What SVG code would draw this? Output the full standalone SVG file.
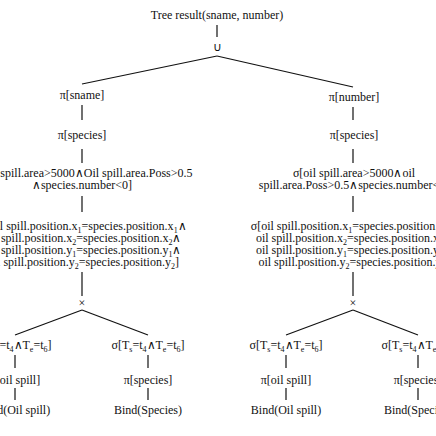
<svg xmlns="http://www.w3.org/2000/svg" width="436" height="436" viewBox="0 0 436 436">
<style>
text{font-family:"Liberation Serif","Times New Roman",serif;font-size:12px;fill:#111;text-anchor:middle}
.s{font-size:8px}
line{stroke:#111;stroke-width:1.2}
</style>
<rect width="436" height="436" fill="#fff"/>
<g id="connectors">
<line x1="217" y1="25" x2="217" y2="37"/>
<line x1="217" y1="56" x2="82" y2="84"/>
<line x1="217" y1="56" x2="353" y2="87"/>
<line x1="82" y1="105" x2="82" y2="120"/>
<line x1="353" y1="107" x2="353" y2="120"/>
<line x1="82" y1="149" x2="82" y2="163"/>
<line x1="353" y1="149" x2="353" y2="163"/>
<line x1="82" y1="196" x2="82" y2="212"/>
<line x1="353" y1="196" x2="353" y2="212"/>
<line x1="82" y1="272" x2="82" y2="296"/>
<line x1="353" y1="272" x2="353" y2="296"/>
<line x1="82" y1="310" x2="15" y2="335"/>
<line x1="82" y1="310" x2="148" y2="335"/>
<line x1="353" y1="310" x2="286" y2="335"/>
<line x1="353" y1="310" x2="418" y2="335"/>
<line x1="15" y1="355" x2="15" y2="368"/>
<line x1="148" y1="355" x2="148" y2="368"/>
<line x1="286" y1="355" x2="286" y2="368"/>
<line x1="418" y1="355" x2="418" y2="368"/>
<line x1="15" y1="388" x2="15" y2="400"/>
<line x1="148" y1="388" x2="148" y2="400"/>
<line x1="286" y1="388" x2="286" y2="400"/>
<line x1="418" y1="388" x2="418" y2="400"/>
</g>
<g id="root"><text x="217" y="19">Tree result(sname, number)</text></g>
<g id="union"><text x="217" y="51">∪</text></g>
<g id="pi-sname"><text x="82" y="99">π[sname]</text></g>
<g id="pi-number"><text x="354" y="101">π[number]</text></g>
<g id="pi-species-l"><text x="82" y="139">π[species]</text></g>
<g id="pi-species-r"><text x="354" y="139">π[species]</text></g>
<g id="sel-area-l">
<text x="82" y="177">σ[Oil spill.area&gt;5000∧Oil spill.area.Poss&gt;0.5</text>
<text x="82" y="189">∧species.number&lt;0]</text>
</g>
<g id="sel-area-r">
<text x="354" y="177">σ[oil spill.area&gt;5000∧oil</text>
<text x="354" y="189">spill.area.Poss&gt;0.5∧species.number&lt;0]</text>
</g>
<g id="sel-pos-l">
<text x="82" y="230">σ[Oil spill.position.x<tspan class="s" dy="3">1</tspan><tspan dy="-3">=species.position.x</tspan><tspan class="s" dy="3">1</tspan><tspan dy="-3">∧</tspan></text>
<text x="82" y="242">Oil spill.position.x<tspan class="s" dy="3">2</tspan><tspan dy="-3">=species.position.x</tspan><tspan class="s" dy="3">2</tspan><tspan dy="-3">∧</tspan></text>
<text x="82" y="254">Oil spill.position.y<tspan class="s" dy="3">1</tspan><tspan dy="-3">=species.position.y</tspan><tspan class="s" dy="3">1</tspan><tspan dy="-3">∧</tspan></text>
<text x="82" y="266">Oil spill.position.y<tspan class="s" dy="3">2</tspan><tspan dy="-3">=species.position.y</tspan><tspan class="s" dy="3">2</tspan><tspan dy="-3">]</tspan></text>
</g>
<g id="sel-pos-r">
<text x="354" y="230">σ[oil spill.position.x<tspan class="s" dy="3">1</tspan><tspan dy="-3">=species.position.x</tspan><tspan class="s" dy="3">1</tspan><tspan dy="-3">∧</tspan></text>
<text x="354" y="242">oil spill.position.x<tspan class="s" dy="3">2</tspan><tspan dy="-3">=species.position.x</tspan><tspan class="s" dy="3">2</tspan><tspan dy="-3">∧</tspan></text>
<text x="354" y="254">oil spill.position.y<tspan class="s" dy="3">1</tspan><tspan dy="-3">=species.position.y</tspan><tspan class="s" dy="3">1</tspan><tspan dy="-3">∧</tspan></text>
<text x="354" y="266">oil spill.position.y<tspan class="s" dy="3">2</tspan><tspan dy="-3">=species.position.y</tspan><tspan class="s" dy="3">2</tspan><tspan dy="-3">]</tspan></text>
</g>
<g id="product-l"><text x="82" y="307">×</text></g>
<g id="product-r"><text x="353" y="307">×</text></g>
<g id="sel-t-1"><text x="15" y="349">σ[T<tspan class="s" dy="3">s</tspan><tspan dy="-3">=t</tspan><tspan class="s" dy="3">4</tspan><tspan dy="-3">∧T</tspan><tspan class="s" dy="3">e</tspan><tspan dy="-3">=t</tspan><tspan class="s" dy="3">6</tspan><tspan dy="-3">]</tspan></text></g>
<g id="sel-t-2"><text x="148" y="349">σ[T<tspan class="s" dy="3">s</tspan><tspan dy="-3">=t</tspan><tspan class="s" dy="3">4</tspan><tspan dy="-3">∧T</tspan><tspan class="s" dy="3">e</tspan><tspan dy="-3">=t</tspan><tspan class="s" dy="3">6</tspan><tspan dy="-3">]</tspan></text></g>
<g id="sel-t-3"><text x="286" y="349">σ[T<tspan class="s" dy="3">s</tspan><tspan dy="-3">=t</tspan><tspan class="s" dy="3">4</tspan><tspan dy="-3">∧T</tspan><tspan class="s" dy="3">e</tspan><tspan dy="-3">=t</tspan><tspan class="s" dy="3">6</tspan><tspan dy="-3">]</tspan></text></g>
<g id="sel-t-4"><text x="418" y="349">σ[T<tspan class="s" dy="3">s</tspan><tspan dy="-3">=t</tspan><tspan class="s" dy="3">4</tspan><tspan dy="-3">∧T</tspan><tspan class="s" dy="3">e</tspan><tspan dy="-3">=t</tspan><tspan class="s" dy="3">6</tspan><tspan dy="-3">]</tspan></text></g>
<g id="pi-oil-1"><text x="15" y="384">π[oil spill]</text></g>
<g id="pi-species-b2"><text x="148" y="384">π[species]</text></g>
<g id="pi-oil-3"><text x="286" y="384">π[oil spill]</text></g>
<g id="pi-species-b4"><text x="418" y="384">π[species]</text></g>
<g id="bind-oil-1"><text x="15" y="414">Bind(Oil spill)</text></g>
<g id="bind-species-2"><text x="148" y="414">Bind(Species)</text></g>
<g id="bind-oil-3"><text x="286" y="414">Bind(Oil spill)</text></g>
<g id="bind-species-4"><text x="418" y="414">Bind(Species)</text></g>
</svg>
